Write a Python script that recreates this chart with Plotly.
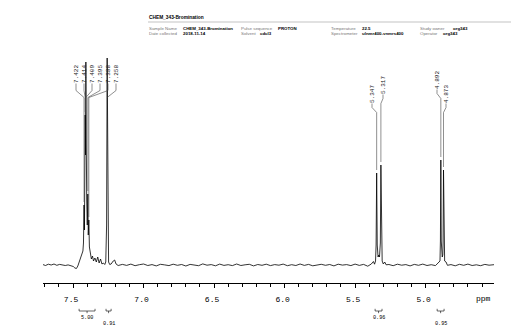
import plotly.graph_objects as go

# ---------------- data ----------------
spec_ppm = [
    7.713, 7.695, 7.675, 7.655, 7.635, 7.615, 7.595, 7.575, 7.555, 7.535,
    7.515, 7.498, 7.487, 7.476, 7.466, 7.456, 7.446, 7.436, 7.430, 7.426,
    7.422, 7.419, 7.416, 7.414, 7.4115, 7.409, 7.406, 7.403, 7.399, 7.395,
    7.392, 7.388, 7.384, 7.378, 7.370, 7.362, 7.355, 7.345, 7.335, 7.325,
    7.315, 7.305, 7.295, 7.285, 7.275, 7.268, 7.262, 7.258, 7.254, 7.248,
    7.240, 7.230, 7.215, 7.205, 7.195, 7.180,
    7.15, 7.12, 7.09, 7.06, 7.03, 7.00, 6.97, 6.94, 6.91, 6.88,
    6.85, 6.82, 6.79, 6.76, 6.73, 6.70, 6.67, 6.64, 6.61, 6.58,
    6.55, 6.52, 6.49, 6.46, 6.43, 6.40, 6.37, 6.34, 6.31, 6.28,
    6.25, 6.22, 6.19, 6.16, 6.13, 6.10, 6.07, 6.04, 6.01, 5.98,
    5.95, 5.92, 5.89, 5.86, 5.83, 5.80, 5.77, 5.74, 5.71, 5.68,
    5.65, 5.62, 5.59, 5.56, 5.53, 5.50, 5.47, 5.44, 5.41,
    5.395, 5.385, 5.370, 5.362, 5.355, 5.351, 5.347, 5.343, 5.337, 5.332,
    5.327, 5.321, 5.317, 5.313, 5.308, 5.300, 5.290, 5.280,
    5.26, 5.23, 5.20, 5.17, 5.14, 5.11, 5.08, 5.05, 5.02, 4.99, 4.96, 4.93,
    4.915, 4.905, 4.898, 4.895, 4.892, 4.889, 4.884, 4.882, 4.878, 4.876,
    4.873, 4.870, 4.865, 4.855, 4.845,
    4.82, 4.79, 4.76, 4.73, 4.70, 4.67, 4.64, 4.61, 4.58, 4.55, 4.515,
]
spec_int = [
    0.4, -0.5, 0.8, 0.0, 1.0, -0.3, 0.6, 0.2, -0.5, 0.1,
    -0.8, -1.5, -3.0, -3.5, -1.0, 3, 6, 10, 14, 22,
    60, 35, 70, 150, 110, 203, 120, 65, 40, 71,
    30, 45, 18, 10, 6, 9, 4, 7, 3, 8,
    2, 6, 1, 2, 0.5, 3, 40, 207, 40, 3,
    0.5, 1, 4, 5, 1, -0.5,
    0.6, -0.4, 0.9, -0.7, 0.3, 1.0, -0.5, 0.4, -0.9, 0.7,
    0.1, -0.6, 0.8, -0.3, 0.5, -1.0, 0.6, 0.2, -0.7, 1.1,
    -0.2, 0.4, -0.8, 0.9, -0.4, 0.3, -0.6, 1.0, -0.5, 0.2,
    0.7, -0.9, 0.5, -0.3, 0.8, -0.6, 0.4, -0.2, 0.9, -0.7,
    0.3, -0.5, 1.0, -0.4, 0.6, -0.8, 0.2, 0.7, -0.3, 0.5,
    -0.9, 0.8, -0.1, 0.4, -0.6, 0.9, -0.4, 0.6, -1.2,
    0.2, 1.0, 3.5, 0.8, 4, 20, 92, 20, 8, 10,
    8, 22, 100, 22, 4, 1, 3, 0.2,
    0.5, -0.7, 0.8, -0.2, 0.4, -0.9, 0.6, -0.3, 0.9, -0.5, 0.3, -0.6,
    1.5, 3.5, 4, 24, 105, 24, 9, 8, 10, 22,
    95, 21, 4, 3, -0.3,
    0.4, -0.8, 0.7, -0.3, 0.9, -0.5, 0.2, -0.7, 0.6, -0.2, 0.3,
]

peak_ppm = [7.422, 7.414, 7.409, 7.395, 7.388, 7.258, 5.347, 5.317, 4.892, 4.873]
peak_txt = ["7.422", "7.414", "7.409", "7.395", "7.388", "7.258", "5.347", "5.317", "4.892", "4.873"]

integ_lo = [7.457, 7.266, 5.358, 4.918]
integ_hi = [7.344, 7.230, 5.309, 4.869]
integ_txt = ["5.00", "0.91", "0.96", "0.95"]

tick_vals = [7.5, 7.0, 6.5, 6.0, 5.5, 5.0]
tick_txt = ["7.5", "7.0", "6.5", "6.0", "5.5", "5.0"]

header_title = "CHEM_343-Bromination"
header_rows = [
    [("Sample Name", "CHEM_343-Bromination"), ("Pulse sequence", "PROTON"),
     ("Temperature", "22.5"), ("Study owner", "org343")],
    [("Date collected", "2018-11-14"), ("Solvent", "cdcl3"),
     ("Spectrometer", "ulnmr400-vnmrs400"), ("Operator", "org343")],
]

# ---------------- layout geometry ----------------
W, H = 525, 335
ML, MR, MT, MB = 43, 31, 40, 52
PW, PH = W - ML - MR, H - MT - MB
XMAX, XMIN = 7.713, 4.515
BASE_PX = 265
Y0 = -((H - MB) - BASE_PX)
YTOP = Y0 + PH


def px_x(x):
    return XMAX - (x - ML) / PW * (XMAX - XMIN)


def px_y(y):
    return (H - MB - y) + Y0


def pap_x(x):
    return (x - ML) / PW


def pap_y(y):
    return (H - MB - y) / PH


MONO = "Liberation Mono"
SANS = "Liberation Sans"

fig = go.Figure()
fig.add_trace(go.Scatter(x=spec_ppm, y=spec_int, mode="lines",
                         line=dict(color="black", width=0.8), hoverinfo="skip",
                         showlegend=False))

# peak labels with leader lines
label_px_x = [76, 84, 92, 100, 108, 116, 372, 383, 437, 446]
label_px_y = [74] * 6 + [94, 85, 80, 94]
vert_len = [7] * 6 + [4] * 4
diag_len = [7] * 6 + [5] * 4
LFS = 6.0
half = 0.6 * LFS * 5 / 2 + 0.5
annotations = []
for i, (p, t) in enumerate(zip(peak_ppm, peak_txt)):
    lx = px_x(label_px_x[i])
    ly = px_y(label_px_y[i])
    top = max(v for q, v in zip(spec_ppm, spec_int) if abs(q - p) < 0.0012)
    b = ly - half
    k1 = b - vert_len[i]
    k2 = k1 - diag_len[i]
    xs = [lx, lx, p]
    ys = [b, k1, k2]
    if top + 3 < k2:
        xs.append(p)
        ys.append(top + 3)
    fig.add_trace(go.Scatter(x=xs, y=ys, mode="lines",
                             line=dict(color="#444", width=0.6),
                             hoverinfo="skip", showlegend=False))
    annotations.append(dict(x=lx, y=ly, xref="x", yref="y", text=t,
                            textangle=-90, showarrow=False,
                            font=dict(family=MONO, size=LFS, color="#222"),
                            xanchor="center", yanchor="middle"))

# integral brackets
shapes = []
yb = pap_y(311)
up = 2.2 / PH
lab_rows = [318, 324, 318, 324]
for lo, hi, t, ry in zip(integ_lo, integ_hi, integ_txt, lab_rows):
    mid = (lo + hi) / 2
    ln = dict(color="black", width=0.6)
    shapes.append(dict(type="line", xref="x", yref="paper", x0=lo, x1=hi, y0=yb, y1=yb, line=ln))
    shapes.append(dict(type="line", xref="x", yref="paper", x0=lo, x1=lo, y0=yb, y1=yb + up, line=ln))
    shapes.append(dict(type="line", xref="x", yref="paper", x0=hi, x1=hi, y0=yb, y1=yb + up, line=ln))
    shapes.append(dict(type="line", xref="x", yref="paper", x0=mid, x1=mid, y0=yb, y1=yb - up, line=ln))
    annotations.append(dict(x=mid, y=pap_y(ry), xref="x", yref="paper", text=t,
                            showarrow=False, font=dict(family=MONO, size=5.2, color="black"),
                            xanchor="center", yanchor="middle"))

# ppm unit label
annotations.append(dict(x=pap_x(483), y=pap_y(298), xref="paper", yref="paper", text="ppm",
                        showarrow=False, font=dict(family=MONO, size=8, color="black"),
                        xanchor="center", yanchor="middle"))

# header
annotations.append(dict(x=pap_x(147), y=pap_y(17.5), xref="paper", yref="paper",
                        text="<b>" + header_title + "</b>", showarrow=False,
                        font=dict(family=SANS, size=4.8, color="black"),
                        xanchor="left", yanchor="middle"))
shapes.append(dict(type="line", xref="paper", yref="paper", x0=pap_x(148), x1=pap_x(511),
                   y0=pap_y(22), y1=pap_y(22), line=dict(color="#aaaaaa", width=0.7)))
col_lab = [147, 239, 329, 418]
col_val = [[181, 276, 360, 451], [181, 258, 360, 441]]
row_y = [28, 33.5]
for r, row in enumerate(header_rows):
    for c, (lab, val) in enumerate(row):
        annotations.append(dict(x=pap_x(col_lab[c]), y=pap_y(row_y[r]), xref="paper", yref="paper",
                                text=lab, showarrow=False,
                                font=dict(family=SANS, size=4.4, color="#777777"),
                                xanchor="left", yanchor="middle"))
        annotations.append(dict(x=pap_x(col_val[r][c]), y=pap_y(row_y[r]), xref="paper", yref="paper",
                                text="<b>" + val + "</b>", showarrow=False,
                                font=dict(family=SANS, size=4.4, color="black"),
                                xanchor="left", yanchor="middle"))

fig.update_layout(
    width=W, height=H,
    margin=dict(l=ML, r=MR, t=MT, b=MB, pad=0),
    paper_bgcolor="white", plot_bgcolor="white",
    showlegend=False,
    annotations=annotations, shapes=shapes,
    xaxis=dict(range=[XMAX, XMIN], showgrid=False, zeroline=False,
               showline=True, linecolor="black", linewidth=0.8,
               ticks="outside", ticklen=4, tickwidth=0.8, tickcolor="black",
               tickvals=tick_vals, ticktext=tick_txt, ticklabelstandoff=4,
               ticklabelshift=2,
               tickfont=dict(family=MONO, size=8, color="black"),
               minor=dict(dtick=0.1, tick0=0, ticks="outside", ticklen=3,
                          tickwidth=0.6, tickcolor="black")),
    yaxis=dict(range=[Y0, YTOP], visible=False, showgrid=False, zeroline=False),
)

fig.write_html("out.html")
